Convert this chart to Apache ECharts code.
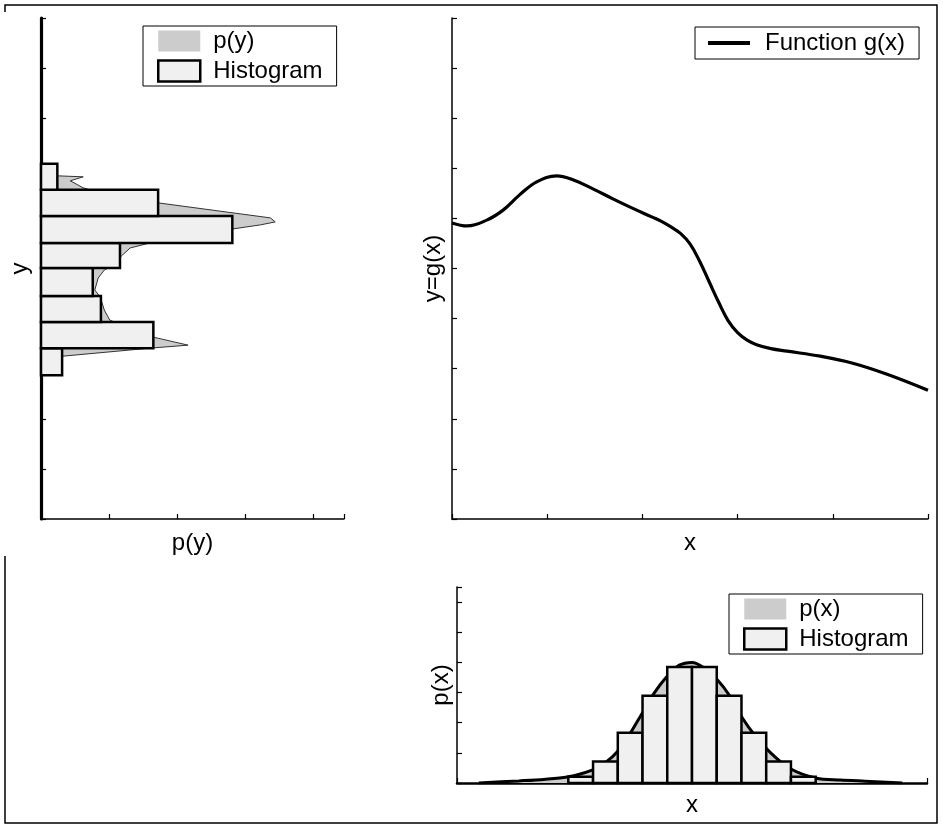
<!DOCTYPE html>
<html>
<head>
<meta charset="utf-8">
<script src="https://cdn.jsdelivr.net/npm/echarts@6/dist/echarts.min.js"></script>
<style>
  html, body { margin: 0; padding: 0; background: #fff; }
  #chart { width: 943px; height: 828px; }
</style>
</head>
<body>
<div id="chart"></div>
<script>
// top right: function g(x)
const gX = [0, 0.16, 0.37, 0.54, 0.71, 0.89, 1.10, 1.27, 1.48, 1.69, 1.90, 2.11, 2.2, 2.3, 2.4, 2.5, 2.6, 2.7, 2.8, 2.9, 3.0, 3.1, 3.2, 3.35, 3.52, 3.87, 4.21, 4.57, 5.0]
const gY = [5.91, 5.85, 5.97, 6.17, 6.47, 6.73, 6.85, 6.77, 6.59, 6.39, 6.20, 6.02, 5.94, 5.83, 5.70, 5.49, 5.15, 4.74, 4.33, 3.96, 3.72, 3.57, 3.48, 3.40, 3.35, 3.25, 3.11, 2.89, 2.57]

// top left: p(y) density (horizontal) and its histogram
const pyY = [7.01, 6.89, 6.85, 6.83, 6.75, 6.61, 6.45, 6.31, 6.01, 5.93, 5.87, 5.79, 5.65, 5.51, 5.41, 5.25, 5.09, 4.97, 4.81, 4.57, 4.43, 4.17, 3.97, 3.77, 3.63, 3.47, 3.41, 3.25, 3.17, 3.09]
const pyP = [0, 0.13, 0.24, 0.62, 0.43, 0.62, 1.01, 1.72, 3.37, 3.44, 3.22, 2.82, 2.12, 1.60, 1.31, 1.18, 1.09, 0.93, 0.84, 0.79, 0.87, 0.93, 1.01, 1.38, 1.65, 2.16, 1.60, 0.32, 0.06, 0]
const yBinEdges = [2.87, 3.41, 3.93, 4.45, 5.01, 5.51, 6.05, 6.57, 7.09]
const yHist = [0.31, 1.65, 0.88, 0.76, 1.16, 2.81, 1.72, 0.24]

// bottom right: p(x) density and its histogram
const pxX = [0.88, 2.5, 3.51, 4.45, 5.46, 6.03, 6.47, 6.96, 7.44, 7.97, 8.46, 8.99, 9.5, 9.93, 10.54, 11.01, 11.55, 12.03, 12.63, 13.44, 14.53, 15.5, 16.5, 18.0]
const pxY = [0, 0.07, 0.12, 0.20, 0.43, 0.70, 1.03, 1.59, 2.25, 2.98, 3.51, 3.91, 4.0, 3.85, 3.41, 2.91, 2.14, 1.59, 1.04, 0.49, 0.16, 0.10, 0.06, 0]
const xBinEdges = [4.5, 5.5, 6.5, 7.5, 8.5, 9.5, 10.5, 11.5, 12.5, 13.5, 14.5]
const xHist = [0.21, 0.71, 1.67, 2.89, 3.85, 3.85, 2.89, 1.67, 0.71, 0.21]

const font = 'Liberation Sans, Arial, sans-serif'
const fill = '#f0f0f0'
const gray = '#cccccc'

let chart = echarts.init(document.getElementById('chart'), null, { renderer: 'canvas' })

function makeAxis(opt) {
  return Object.assign({
    type: 'value',
    nameLocation: 'middle',
    nameTextStyle: { fontFamily: font, fontSize: 24, color: '#000' },
    axisLine: { show: true, onZero: false, lineStyle: { color: '#000', width: 1.5 } },
    axisTick: { show: true, inside: true, length: 5, lineStyle: { color: '#000', width: 1.2 } },
    axisLabel: { show: false },
    splitLine: { show: false }
  }, opt)
}

function legendBox(opt) {
  return Object.assign({
    orient: 'vertical',
    selectedMode: false,
    borderColor: '#000',
    borderWidth: 1,
    backgroundColor: '#fff',
    itemWidth: 42,
    itemHeight: 21,
    itemGap: 6,
    padding: [3, 14, 3, 14],
    textStyle: { fontFamily: font, fontSize: 24, color: '#000', lineHeight: 21, padding: [0, 0, 0, 8] }
  }, opt)
}

let yHistData = yHist.map((v, i) => [yBinEdges[i], yBinEdges[i + 1], v])
let xHistData = xHist.map((v, i) => [xBinEdges[i], xBinEdges[i + 1], v])

let option = {
  animation: false,
  backgroundColor: '#fff',
  grid: [
    { left: 41, top: 18, width: 303, height: 501 },
    { left: 452, top: 18, width: 476, height: 501 },
    { left: 457, top: 587, width: 470, height: 196 }
  ],
  xAxis: [
    makeAxis({ gridIndex: 0, min: 0, max: 4.45, interval: 1, name: 'p(y)', nameGap: 12 }),
    makeAxis({ gridIndex: 1, min: 0, max: 5, interval: 1, name: 'x', nameGap: 12 }),
    makeAxis({ gridIndex: 2, min: 0, max: 19, interval: 19, name: 'x', nameGap: 10,
      axisLine: { show: true, onZero: false, lineStyle: { color: '#000', width: 2.5 } } })
  ],
  yAxis: [
    makeAxis({ gridIndex: 0, min: 0, max: 10, interval: 1, name: 'y', nameGap: 9,
      axisLine: { show: true, onZero: false, lineStyle: { color: '#000', width: 3.2 } } }),
    makeAxis({ gridIndex: 1, min: 0, max: 10, interval: 1, name: 'y=g(x)', nameGap: 7 }),
    makeAxis({ gridIndex: 2, min: 0, max: 6.5, interval: 1, name: 'p(x)', nameGap: 4 })
  ],
  legend: [
    legendBox({
      left: 143, top: 26,
      data: [
        { name: 'p(y)', icon: 'rect', itemStyle: { color: gray, borderWidth: 0 } },
        { name: 'Histogram', icon: 'rect', itemStyle: { color: fill, borderColor: '#000', borderWidth: 2.5 } }
      ]
    }),
    legendBox({
      left: 695, top: 27,
      itemHeight: 4,
      padding: [4, 14, 4, 13],
      textStyle: { fontFamily: font, fontSize: 24, color: '#000', padding: [0, 0, 0, 10] },
      data: [{ name: 'Function g(x)', icon: 'rect', itemStyle: { color: '#000', borderWidth: 0 } }]
    }),
    legendBox({
      left: 729, top: 594,
      data: [
        { name: 'p(x)', icon: 'rect', itemStyle: { color: gray, borderWidth: 0 } },
        { name: 'Histogram', icon: 'rect', itemStyle: { color: fill, borderColor: '#000', borderWidth: 2.5 } }
      ]
    })
  ],
  graphic: [
    // outer frame, the left side is open where the top left panel sits
    { type: 'polyline', silent: true, z: 100,
      shape: { points: [[5, 12], [5, 5], [937, 5], [937, 823], [5, 823], [5, 556]] },
      style: { stroke: '#000', lineWidth: 1.5, fill: null } }
  ],
  series: [
    {
      name: 'p(y)',
      type: 'custom',
      xAxisIndex: 0,
      yAxisIndex: 0,
      z: 2,
      data: pyP.map((p, i) => [p, pyY[i]]),
      renderItem: function (params, api) {
        if (params.dataIndex !== 0) return
        let pts = pyP.map((p, i) => api.coord([p, pyY[i]]))
        return {
          type: 'polygon',
          shape: { points: pts },
          style: { fill: gray, stroke: '#333', lineWidth: 1 }
        }
      }
    },
    {
      name: 'Histogram',
      type: 'custom',
      xAxisIndex: 0,
      yAxisIndex: 0,
      z: 3,
      encode: { x: 2, y: [0, 1] },
      data: yHistData,
      renderItem: function (params, api) {
        let a = api.coord([0, api.value(1)])
        let b = api.coord([api.value(2), api.value(0)])
        return {
          type: 'rect',
          shape: { x: a[0], y: a[1], width: b[0] - a[0], height: b[1] - a[1] },
          style: { fill: fill, stroke: '#000', lineWidth: 2.5 }
        }
      }
    },
    {
      name: 'Function g(x)',
      type: 'line',
      xAxisIndex: 1,
      yAxisIndex: 1,
      smooth: 0.4,
      symbol: 'none',
      lineStyle: { color: '#000', width: 3.2 },
      itemStyle: { color: '#000' },
      data: gX.map((x, i) => [x, gY[i]])
    },
    {
      name: 'p(x)',
      type: 'line',
      xAxisIndex: 2,
      yAxisIndex: 2,
      z: 2,
      smooth: 0.3,
      symbol: 'none',
      lineStyle: { color: '#000', width: 3 },
      itemStyle: { color: gray },
      areaStyle: { color: gray, opacity: 1 },
      data: pxX.map((x, i) => [x, pxY[i]])
    },
    {
      name: 'Histogram',
      type: 'custom',
      xAxisIndex: 2,
      yAxisIndex: 2,
      z: 5,
      encode: { x: [0, 1], y: 2 },
      data: xHistData,
      renderItem: function (params, api) {
        let a = api.coord([api.value(0), api.value(2)])
        let b = api.coord([api.value(1), 0])
        return {
          type: 'rect',
          shape: { x: a[0], y: a[1], width: b[0] - a[0], height: b[1] - a[1] },
          style: { fill: fill, stroke: '#000', lineWidth: 2.5 }
        }
      }
    }
  ]
}

chart.setOption(option)
</script>
</body>
</html>
